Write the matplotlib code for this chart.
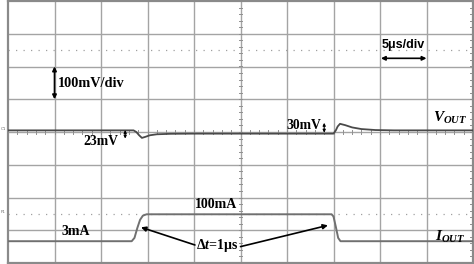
import numpy as np
import matplotlib.pyplot as plt

plt.rcParams['mathtext.fontset'] = 'custom'
plt.rcParams['mathtext.it'] = 'Liberation Serif:italic:bold'
plt.rcParams['mathtext.rm'] = 'Liberation Serif:bold'

# time in divisions (5 us/div), VOUT deviation in mV (100 mV/div)
t_v = [0, 1.0, 2.0, 2.70, 2.76, 2.82, 2.88, 2.95, 3.05, 3.2, 3.5, 4.0, 5.0, 6.0, 7.0,
       7.05, 7.09, 7.14, 7.25, 7.4, 7.6, 7.9, 8.3, 9.0, 10]
v_mv = [5, 5, 5, 5, 0, -10, -18, -15, -10, -7, -5.5, -5, -5, -5, -5,
        5, 17, 25, 21, 14, 9, 6, 5, 5, 5]

# time in divisions, IOUT in mA
t_i = [0, 2.0, 2.66, 2.72, 2.78, 2.84, 2.90, 2.98, 4.0, 6.0, 6.96, 7.0, 7.05, 7.1, 7.15, 8.0, 10]
i_ma = [3, 3, 3, 15, 50, 80, 95, 100, 100, 100, 100, 92, 55, 15, 3, 3, 3]

v_center = 4.0      # VOUT ground marker (div)
v_per_div = 100.0   # mV/div
i_zero = 0.64       # IOUT offset (div)
i_per_div = 118.0   # mA/div

fig = plt.figure(figsize=(4.74, 2.64), dpi=100)
ax = fig.add_axes([8 / 474, 1 / 264, 465 / 474, 262 / 264])
ax.set_xlim(0, 10)
ax.set_ylim(0, 8)
ax.set_xticks([])
ax.set_yticks([])
for s in ax.spines.values():
    s.set_color('#8a8a8a')
    s.set_linewidth(1.6)

# graticule
for x in range(1, 10):
    ax.axvline(x, color='#a4a4a4', lw=1.0, zorder=1)
for y in range(1, 8):
    ax.axhline(y, color='#a4a4a4', lw=1.0, zorder=1)
for x in np.arange(0.2, 10, 0.2):
    ax.plot([x, x], [3.94, 4.06], color='#909090', lw=0.7, zorder=1)
for y in np.arange(0.2, 8, 0.2):
    ax.plot([4.96, 5.04], [y, y], color='#909090', lw=0.7, zorder=1)
    ax.plot([9.93, 10], [y, y], color='#909090', lw=0.7, zorder=1)

# cursor lines
ax.axhline(6.5, color='#a0a0a0', lw=0.9, ls=(0, (1, 5)), zorder=1)
ax.axhline(1.5, color='#a0a0a0', lw=0.9, ls=(0, (1, 5)), zorder=1)

# traces
v_div = [v_center + v / v_per_div for v in v_mv]
i_div = [i_zero + i / i_per_div for i in i_ma]
ax.plot(t_v, v_div, color='#4a4a4a', lw=1.3, zorder=3)
ax.plot(t_i, i_div, color='#707070', lw=1.4, zorder=3)

serif = 'Liberation Serif'
sans = 'Liberation Sans'

# scale annotations
ax.annotate('', xy=(1.0, 6.0), xytext=(1.0, 5.0),
            arrowprops=dict(arrowstyle='<|-|>', color='black', lw=1.2,
                            mutation_scale=6, shrinkA=0, shrinkB=0))
ax.text(1.08, 5.47, '100mV/div', family=serif, weight='bold', fontsize=10.3,
        ha='left', va='center')
ax.annotate('', xy=(8.02, 6.25), xytext=(9.0, 6.25),
            arrowprops=dict(arrowstyle='<|-|>', color='black', lw=1.2,
                            mutation_scale=6, shrinkA=0, shrinkB=0))
ax.text(8.5, 6.65, '5μs/div', family=sans, weight='bold', fontsize=9,
        ha='center', va='center')

# ripple annotations
ax.text(1.62, 3.71, '23mV', family=serif, weight='bold', fontsize=9.8,
        ha='left', va='center')
ax.annotate('', xy=(2.52, 4.06), xytext=(2.52, 3.8),
            arrowprops=dict(arrowstyle='<|-|>', color='black', lw=0.8,
                            mutation_scale=4, shrinkA=0, shrinkB=0))
ax.text(5.98, 4.19, '30mV', family=serif, weight='bold', fontsize=9.8,
        ha='left', va='center')
ax.annotate('', xy=(6.8, 4.28), xytext=(6.8, 3.98),
            arrowprops=dict(arrowstyle='<|-|>', color='black', lw=0.8,
                            mutation_scale=4, shrinkA=0, shrinkB=0))
ax.text(9.15, 4.42, '$V_{OUT}$', fontsize=11, ha='left', va='center')

# current annotations
ax.text(4.48, 1.79, '100mA', family=serif, weight='bold', fontsize=10,
        ha='center', va='center')
ax.text(1.46, 0.97, '3mA', family=serif, weight='bold', fontsize=10,
        ha='center', va='center')
ax.text(4.5, 0.52, r'$\Delta t$=1μs', family=serif, weight='bold', fontsize=10,
        ha='center', va='center')
ax.annotate('', xy=(2.86, 1.09), xytext=(4.02, 0.55),
            arrowprops=dict(arrowstyle='-|>', color='black', lw=1.2,
                            mutation_scale=7, shrinkA=0, shrinkB=0))
ax.annotate('', xy=(6.88, 1.15), xytext=(5.0, 0.5),
            arrowprops=dict(arrowstyle='-|>', color='black', lw=1.2,
                            mutation_scale=7, shrinkA=0, shrinkB=0))
ax.text(9.18, 0.79, '$I_{OUT}$', fontsize=11, ha='left', va='center')

# channel markers
fig.text(1 / 474, 1 - 129 / 264, 'C1', fontsize=3, color='#666666', va='center')
fig.text(1 / 474, 1 - 212 / 264, 'F1', fontsize=3, color='#666666', va='center')

fig.savefig('out.png', dpi=100)
